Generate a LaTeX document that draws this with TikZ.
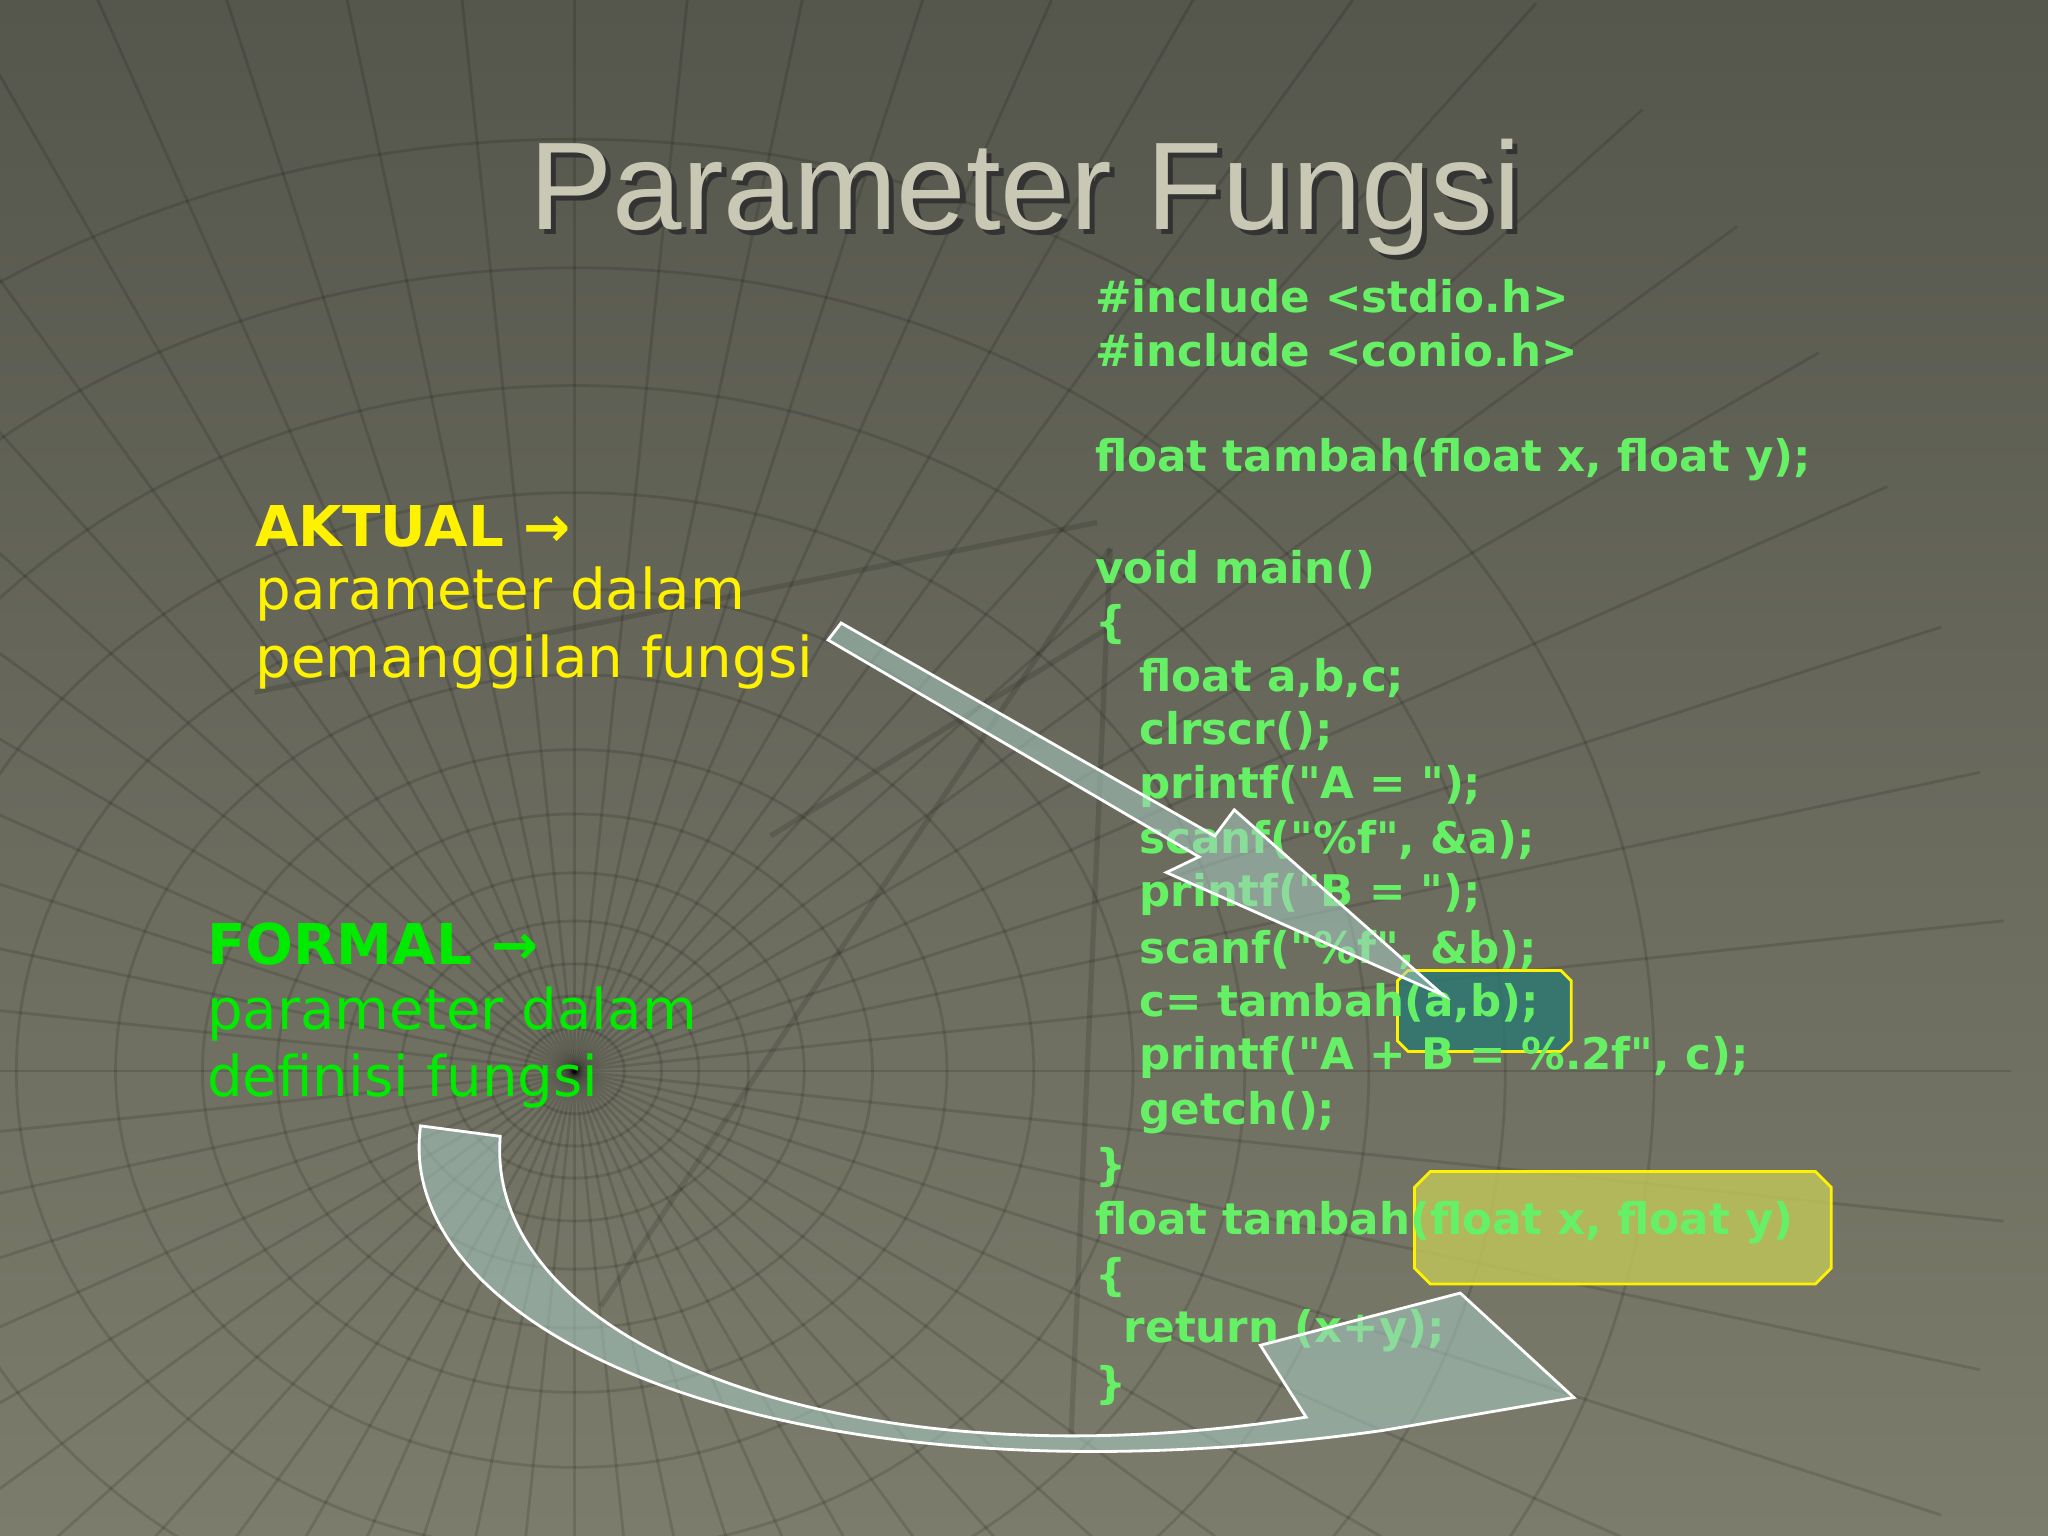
\documentclass[tikz,border=0pt]{standalone}
\usepackage{fontspec}
\setmainfont[Ligatures=TeXOff]{DejaVu Sans}
\newfontfamily\titlefont{Liberation Sans}
\newcommand{\qq}{\symbol{34}}
\begin{document}
\begin{tikzpicture}[x=0.01306cm,y=-0.01306cm,
  code/.style={anchor=west,inner sep=0,font=\fontsize{12.4}{13}\selectfont\bfseries,text=codegreen},
  big/.style={anchor=west,inner sep=0,font=\fontsize{16}{18}\selectfont},
  arr/.style={draw=white,line width=0.8pt,fill=arrowfill,fill opacity=0.55}]
\definecolor{codegreen}{HTML}{66F066}
\definecolor{bgA}{HTML}{55564C}
\definecolor{bgB}{HTML}{7C7C6C}
\definecolor{arrowfill}{HTML}{A8CCC4}
\useasboundingbox (0,0) rectangle (1568,1176);
\shade[top color=bgA,bottom color=bgB] (0,0) rectangle (1568,1176);
% faint web
\begin{scope}[draw=black,opacity=0.13,line width=0.8pt]
\clip (0,0) rectangle (1568,1176);
\foreach \r in {40,70,100,140,185,240,300,370,450,540,640,750,870}{
  \draw (440,820) ellipse [x radius=\r*0.95, y radius=\r*0.82];}
\foreach \a in {0,6,...,354}{
  \draw (440,820) -- ++(\a:1100);}
\draw[line width=1.5pt] (195,530) -- (840,400);
\draw[line width=1.5pt] (590,640) -- (850,480);
\draw[line width=1.5pt] (460,1000) -- (850,420);
\draw[line width=1.5pt] (820,1100) -- (850,420);
\end{scope}
% title
\node[font=\titlefont\fontsize{35.5}{40}\selectfont,text=black!80] at (789,155) {Parameter Fungsi};
\node[font=\titlefont\fontsize{35.5}{40}\selectfont,text={rgb,255:red,200;green,200;blue,180}] (title) at (785,151) {Parameter Fungsi};
% highlight boxes
\draw[yellow,line width=0.8pt,fill={rgb,255:red,40;green,120;blue,115},fill opacity=0.8]
 (1078,743) -- (1195,743) -- (1203,751) -- (1203,797) -- (1195,805) -- (1078,805) -- (1070,797) -- (1070,751) -- cycle;
\draw[yellow,line width=0.8pt,fill={rgb,255:red,190;green,195;blue,90},fill opacity=0.85]
 (1095,897) -- (1390,897) -- (1402,909) -- (1402,971) -- (1390,983) -- (1095,983) -- (1083,971) -- (1083,909) -- cycle;
% code
\foreach \y/\t in {227/{\#include <stdio.h>},268/{\#include <conio.h>},352/{float tambah(float x, float y);},436/{void main()},478/{\{},894/{\}},936/{float tambah(float x, float y)},978/{\{},1061/{\}}}
  \node[code] at (838,\y) {\t};
\foreach \y/\t in {519/{float a,b,c;},560/{clrscr();},602/{printf(\qq A = \qq);},643/{scanf(\qq\%f\qq, \&a);},685/{printf(\qq B = \qq);},727/{scanf(\qq\%f\qq, \&b);},768/{c= tambah(a,b);},810/{printf(\qq A + B = \%.2f\qq, c);},852/{getch();}}
  \node[code] at (872,\y) {\t};
\node[code] (ret) at (860,1019) {return (x+y);};
% left texts
\node[big,text=yellow,font=\fontsize{16}{18}\selectfont\bfseries] (akt) at (195,403) {AKTUAL \symbol{"2192}};
\node[big,text=yellow] (akt2) at (195,455) {parameter dalam};
\node[big,text=yellow] (akt3) at (195,507) {pemanggilan fungsi};
\node[big,text={rgb,255:red,0;green,235;blue,0},font=\fontsize{16}{18}\selectfont\bfseries] (for) at (158,723) {FORMAL \symbol{"2192}};
\node[big,text={rgb,255:red,0;green,235;blue,0}] (for2) at (158,776) {parameter dalam};
\node[big,text={rgb,255:red,0;green,235;blue,0}] (for3) at (158,828) {definisi fungsi};
% straight arrow
\draw[arr] (634,490) -- (644,477) -- (930,640) -- (945,620) -- (1105,762) -- (893,668) -- (918,656) -- cycle;
% curved arrow
\draw[arr] (322,862) .. controls (300,1020) and (600,1160) .. (1060,1095)
  -- (1205,1070) -- (1118,990) -- (965,1030) -- (1000,1085)
  .. controls (650,1140) and (370,1030) .. (383,870) -- cycle;
\end{tikzpicture}
\end{document}
